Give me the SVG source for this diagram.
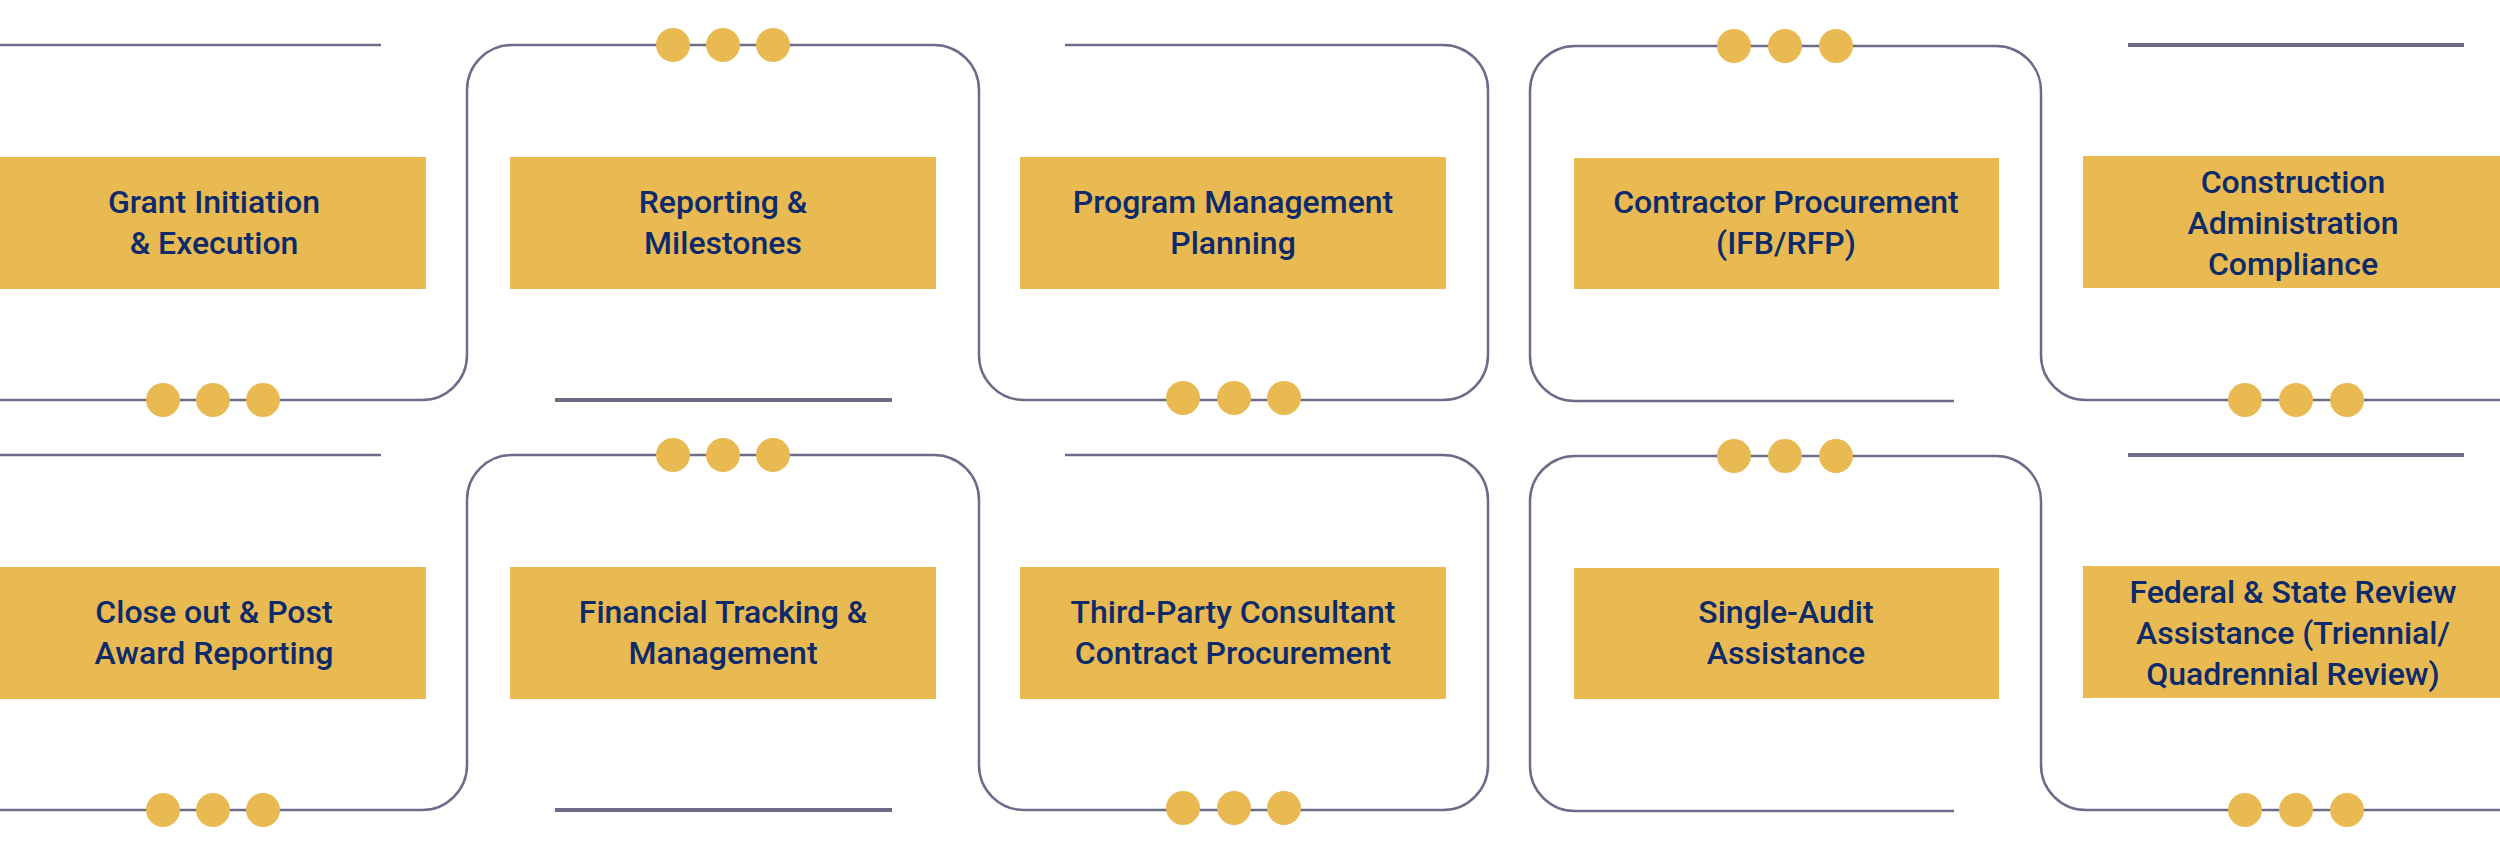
<svg xmlns="http://www.w3.org/2000/svg" width="2500" height="859" viewBox="0 0 2500 859">
<defs>
<style>
.ln{fill:none;stroke:#6c6b88;stroke-width:2.5}
.thk{fill:none;stroke:#6c6b88;stroke-width:4}
.dot{fill:#e9ba52}
.box{fill:#e9ba52}
.t{font-family:Roboto,"Liberation Sans",sans-serif;font-weight:500;font-size:32px;fill:#0d2a6b;text-anchor:middle}
</style>
<g id="row">
<g class="conn">
<line class="ln" x1="0" y1="45" x2="381" y2="45"/>
<path class="ln" d="M0,400 H422 A45,45 0 0 0 467,355 V90 A45,45 0 0 1 512,45 H934 A45,45 0 0 1 979,90 V355 A45,45 0 0 0 1024,400 H1443 A45,45 0 0 0 1488,355 V90 A45,45 0 0 0 1443,45 H1065"/>
<line class="thk" x1="555" y1="400" x2="892" y2="400"/>
<path class="ln" d="M1954,401 H1575 A45,45 0 0 1 1530,356 V91 A45,45 0 0 1 1575,46 H1996 A45,45 0 0 1 2041,91 V355 A45,45 0 0 0 2086,400 H2500"/>
<line class="thk" x1="2128" y1="45" x2="2464" y2="45"/>
<circle class="dot" cx="163" cy="400" r="17"/><circle class="dot" cx="213" cy="400" r="17"/><circle class="dot" cx="263" cy="400" r="17"/>
<circle class="dot" cx="673" cy="45" r="17"/><circle class="dot" cx="723" cy="45" r="17"/><circle class="dot" cx="773" cy="45" r="17"/>
<circle class="dot" cx="1183" cy="398" r="17"/><circle class="dot" cx="1234" cy="398" r="17"/><circle class="dot" cx="1284" cy="398" r="17"/>
<circle class="dot" cx="1734" cy="46" r="17"/><circle class="dot" cx="1785" cy="46" r="17"/><circle class="dot" cx="1836" cy="46" r="17"/>
<circle class="dot" cx="2245" cy="400" r="17"/><circle class="dot" cx="2296" cy="400" r="17"/><circle class="dot" cx="2347" cy="400" r="17"/>
</g>
</g>
</defs>
<rect width="2500" height="859" fill="#ffffff"/>
<g id="connectors">
<use href="#row"/>
<use href="#row" y="410"/>
</g>
<g id="n1"><rect class="box" x="0" y="157" width="426" height="132"/><text class="t" x="214"><tspan x="214" y="213">Grant Initiation</tspan><tspan x="214" y="254">&amp; Execution</tspan></text></g>
<g id="n2"><rect class="box" x="510" y="157" width="426" height="132"/><text class="t"><tspan x="723" y="213">Reporting &amp;</tspan><tspan x="723" y="254">Milestones</tspan></text></g>
<g id="n3"><rect class="box" x="1020" y="157" width="426" height="132"/><text class="t"><tspan x="1233" y="213">Program Management</tspan><tspan x="1233" y="254">Planning</tspan></text></g>
<g id="n4"><rect class="box" x="1574" y="158" width="425" height="131"/><text class="t"><tspan x="1786" y="213">Contractor Procurement</tspan><tspan x="1786" y="254">(IFB/RFP)</tspan></text></g>
<g id="n5"><rect class="box" x="2083" y="156" width="417" height="132"/><text class="t"><tspan x="2293" y="193">Construction</tspan><tspan x="2293" y="234">Administration</tspan><tspan x="2293" y="275">Compliance</tspan></text></g>
<g id="n6"><rect class="box" x="0" y="567" width="426" height="132"/><text class="t"><tspan x="214" y="623">Close out &amp; Post</tspan><tspan x="214" y="664">Award Reporting</tspan></text></g>
<g id="n7"><rect class="box" x="510" y="567" width="426" height="132"/><text class="t"><tspan x="723" y="623">Financial Tracking &amp;</tspan><tspan x="723" y="664">Management</tspan></text></g>
<g id="n8"><rect class="box" x="1020" y="567" width="426" height="132"/><text class="t"><tspan x="1233" y="623">Third-Party Consultant</tspan><tspan x="1233" y="664">Contract Procurement</tspan></text></g>
<g id="n9"><rect class="box" x="1574" y="568" width="425" height="131"/><text class="t"><tspan x="1786" y="623">Single-Audit</tspan><tspan x="1786" y="664">Assistance</tspan></text></g>
<g id="n10"><rect class="box" x="2083" y="566" width="417" height="132"/><text class="t"><tspan x="2293" y="603">Federal &amp; State Review</tspan><tspan x="2293" y="644">Assistance (Triennial/</tspan><tspan x="2293" y="685">Quadrennial Review)</tspan></text></g>
</svg>
